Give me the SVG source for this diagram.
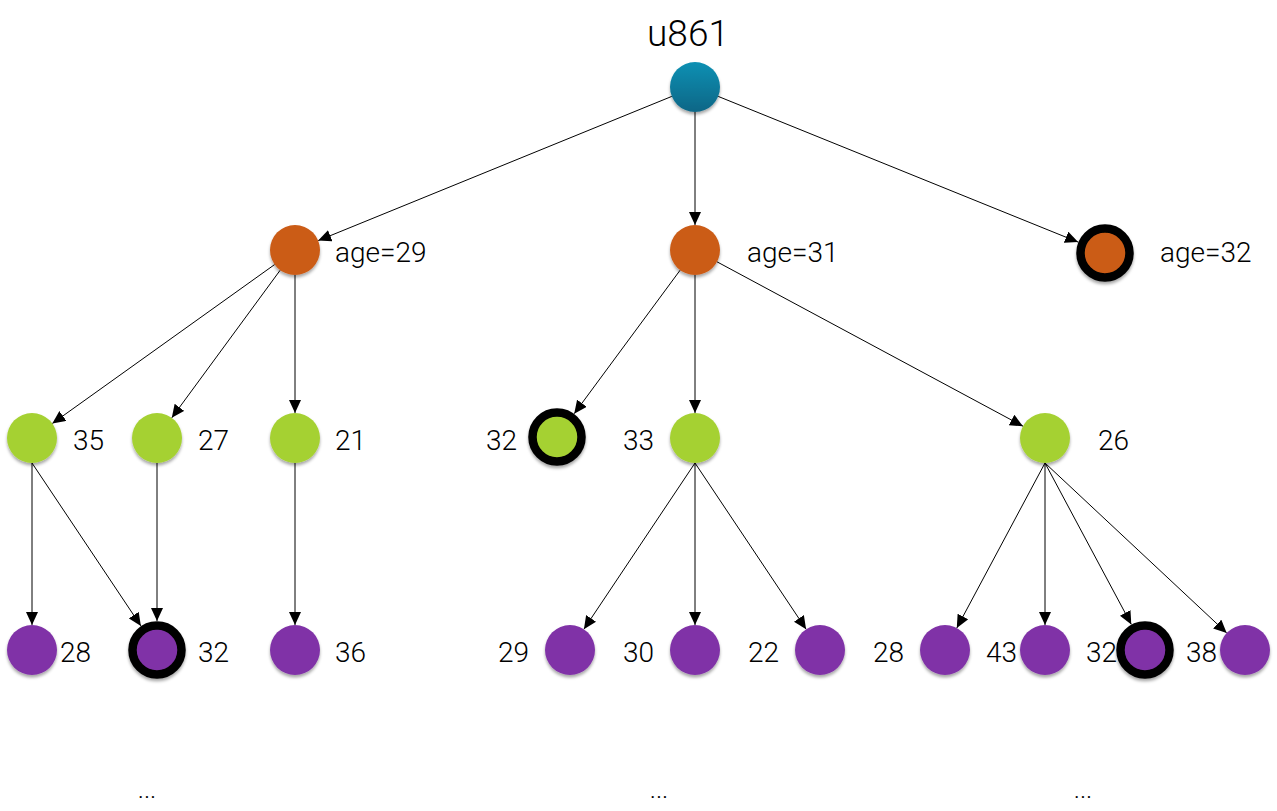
<svg xmlns="http://www.w3.org/2000/svg" width="1277" height="811" viewBox="0 0 1277 811">
<defs>
<linearGradient id="rootGrad" x1="0" y1="0" x2="0" y2="1">
<stop offset="0" stop-color="#0a90b3"/>
<stop offset="1" stop-color="#0b6686"/>
</linearGradient>
<filter id="sh" x="-30%" y="-30%" width="160%" height="170%">
<feDropShadow dx="0" dy="2.5" stdDeviation="1.6" flood-color="#000" flood-opacity="0.35"/>
</filter>
<marker id="arr" markerUnits="userSpaceOnUse" markerWidth="14" markerHeight="12" refX="13" refY="6" orient="auto">
<path d="M0,0 L13,6 L0,12 Z" fill="#000"/>
</marker>
</defs>
<style>
.e{stroke:#000;stroke-width:1;fill:none;marker-end:url(#arr)}
.n{filter:url(#sh)}
.root{fill:url(#rootGrad)}
.o{fill:#cb5b16}
.g{fill:#a5d133}
.p{fill:#8033a7}
.hl{stroke:#000;stroke-width:8.5}
.t{font-family:Roboto,"Liberation Sans",sans-serif;font-weight:300;fill:#000}
.age{font-size:28px}
.num{font-size:28px}
.title{font-size:37px}
.dots{font-size:26px}
</style>
<rect width="1277" height="811" fill="#fff"/>
<g id="connectors">
<line class="e" x1="671.8" y1="96.4" x2="318.2" y2="240.6"/>
<line class="e" x1="695" y1="112" x2="695" y2="225"/>
<line class="e" x1="718.2" y1="96.4" x2="1078.1" y2="242.1"/>
<line class="e" x1="274.7" y1="264.5" x2="52.3" y2="423.5"/>
<line class="e" x1="280.2" y1="270.2" x2="171.8" y2="417.8"/>
<line class="e" x1="295" y1="275" x2="295" y2="413"/>
<line class="e" x1="680.2" y1="270.1" x2="574.2" y2="413.7"/>
<line class="e" x1="695" y1="275" x2="695" y2="413"/>
<line class="e" x1="717" y1="261.8" x2="1023" y2="426.2"/>
<line class="e" x1="32" y1="463" x2="32" y2="625"/>
<line class="e" x1="32" y1="463" x2="140.9" y2="625.9"/>
<line class="e" x1="157" y1="463" x2="157" y2="621"/>
<line class="e" x1="295" y1="463" x2="295" y2="625"/>
<line class="e" x1="695" y1="463" x2="583.9" y2="629.2"/>
<line class="e" x1="695" y1="463" x2="695" y2="625"/>
<line class="e" x1="695" y1="463" x2="806.1" y2="629.2"/>
<line class="e" x1="1045" y1="463" x2="956.8" y2="628"/>
<line class="e" x1="1045" y1="463" x2="1045" y2="625"/>
<line class="e" x1="1045" y1="463" x2="1131.3" y2="624.4"/>
<line class="e" x1="1045" y1="463" x2="1226.7" y2="632.9"/>
</g>
<g id="root"><circle class="n root" cx="695" cy="87" r="25"/><text class="t title" x="688" y="46" text-anchor="middle">u861</text></g>
<g id="age29"><circle class="n o" cx="295" cy="250" r="25"/><text class="t age" x="335" y="262">age=29</text></g>
<g id="age31"><circle class="n o" cx="695" cy="250" r="25"/><text class="t age" x="747" y="262">age=31</text></g>
<g id="age32"><circle class="n o hl" cx="1105" cy="253" r="24.5"/><text class="t age" x="1160" y="262">age=32</text></g>
<g id="n35"><circle class="n g" cx="32" cy="438" r="25"/><text class="t num" x="73" y="450">35</text></g>
<g id="n27"><circle class="n g" cx="157" cy="438" r="25"/><text class="t num" x="198" y="450">27</text></g>
<g id="n21"><circle class="n g" cx="295" cy="438" r="25"/><text class="t num" x="335" y="450">21</text></g>
<g id="n32a"><circle class="n g hl" cx="557" cy="437" r="24.5"/><text class="t num" x="486" y="450">32</text></g>
<g id="n33"><circle class="n g" cx="695" cy="438" r="25"/><text class="t num" x="623" y="450">33</text></g>
<g id="n26"><circle class="n g" cx="1045" cy="438" r="25"/><text class="t num" x="1098" y="450">26</text></g>
<g id="n28a"><circle class="n p" cx="32" cy="650" r="25"/><text class="t num" x="60" y="662">28</text></g>
<g id="n32b"><circle class="n p hl" cx="157" cy="650" r="24.5"/><text class="t num" x="198" y="662">32</text></g>
<g id="n36"><circle class="n p" cx="295" cy="650" r="25"/><text class="t num" x="335" y="662">36</text></g>
<g id="n29"><circle class="n p" cx="570" cy="650" r="25"/><text class="t num" x="498" y="662">29</text></g>
<g id="n30"><circle class="n p" cx="695" cy="650" r="25"/><text class="t num" x="623" y="662">30</text></g>
<g id="n22"><circle class="n p" cx="820" cy="650" r="25"/><text class="t num" x="748" y="662">22</text></g>
<g id="n28b"><circle class="n p" cx="945" cy="650" r="25"/><text class="t num" x="873" y="662">28</text></g>
<g id="n43"><circle class="n p" cx="1045" cy="650" r="25"/><text class="t num" x="986" y="662">43</text></g>
<g id="n32c"><circle class="n p hl" cx="1145" cy="650" r="24.5"/><text class="t num" x="1086" y="662">32</text></g>
<g id="n38"><circle class="n p" cx="1245" cy="650" r="25"/><text class="t num" x="1186" y="662">38</text></g>
<g id="ellipses">
<text class="t dots" x="147" y="798" text-anchor="middle">...</text>
<text class="t dots" x="659" y="798" text-anchor="middle">...</text>
<text class="t dots" x="1083" y="798" text-anchor="middle">...</text>
</g>
</svg>
